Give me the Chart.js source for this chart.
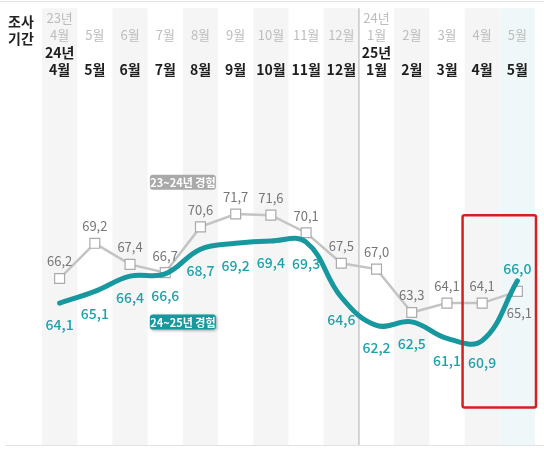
<!DOCTYPE html>
<html>
<head>
<meta charset="utf-8">
<script src="https://cdn.jsdelivr.net/npm/chart.js@4"></script>
<style>
  html, body { margin: 0; padding: 0; background: #fff; }
  #wrap { width: 544px; height: 455px; position: relative; }
</style>
</head>
<body>
<div id="wrap"><canvas id="chart"></canvas></div>
<script>
// 조사 기간 (전년도 / 올해)
const prevMonths = [["23년", "4월"], "5월", "6월", "7월", "8월", "9월", "10월", "11월", "12월", ["24년", "1월"], "2월", "3월", "4월", "5월"];
const currMonths = [["24년", "4월"], "5월", "6월", "7월", "8월", "9월", "10월", "11월", "12월", ["25년", "1월"], "2월", "3월", "4월", "5월"];

const prevName = "23~24년 경험";
const currName = "24~25년 경험";
const prevValues = [66.2, 69.2, 67.4, 66.7, 70.6, 71.7, 71.6, 70.1, 67.5, 67.0, 63.3, 64.1, 64.1, 65.1];
const currValues = [64.1, 65.1, 66.4, 66.6, 68.7, 69.2, 69.4, 69.3, 64.6, 62.2, 62.5, 61.1, 60.9, 66.0];

const FONT = '"Noto Sans CJK KR", "Noto Sans", sans-serif';
const TEAL = "#17989e";
const GRAY = "#c4c4c4";

function fmt(v) { return v.toFixed(1).replace(".", ","); }

const backdrop = {
  id: "backdrop",
  beforeDraw(chart) {
    const { ctx, chartArea: a, scales: { x } } = chart;
    const w = x.getPixelForValue(1) - x.getPixelForValue(0);
    ctx.save();
    currMonths.forEach((_, i) => {
      const cx = x.getPixelForValue(i);
      let fill = null;
      if (i === currMonths.length - 1) fill = "#eff7f8";
      else if (i % 2 === 0) fill = "#f5f5f6";
      if (fill) {
        ctx.fillStyle = fill;
        ctx.fillRect(cx - w / 2, a.top, w, a.bottom - a.top);
      }
    });
    // 연도 구분선
    const sep = (x.getPixelForValue(8) + x.getPixelForValue(9)) / 2;
    ctx.strokeStyle = "#c8c8c8";
    ctx.lineWidth = 1.5;
    ctx.beginPath();
    ctx.moveTo(sep, a.top);
    ctx.lineTo(sep, a.bottom);
    ctx.stroke();
    // 위/아래 테두리
    ctx.strokeStyle = "#e2e2e2";
    ctx.lineWidth = 1;
    ctx.beginPath();
    ctx.moveTo(0, 1.5); ctx.lineTo(chart.width, 1.5);
    ctx.moveTo(5, a.bottom + 0.5); ctx.lineTo(chart.width, a.bottom + 0.5);
    ctx.stroke();

    // 헤더
    ctx.textAlign = "center";
    ctx.textBaseline = "middle";
    ctx.fillStyle = "#222";
    ctx.font = "bold 14px " + FONT;
    ctx.fillText("조사", 21, 22);
    ctx.fillText("기간", 21, 39);
    const drawLabel = (lab, cx, y, color, font) => {
      const lines = Array.isArray(lab) ? lab : [lab];
      ctx.fillStyle = color;
      ctx.font = font;
      lines.forEach((t, k) => ctx.fillText(t, cx, y - (lines.length - 1 - k) * 17));
    };
    prevMonths.forEach((lab, i) => drawLabel(lab, x.getPixelForValue(i), 35, "#bdbdbd", "13px " + FONT));
    currMonths.forEach((lab, i) => drawLabel(lab, x.getPixelForValue(i), 70, "#1e1e1e", "bold 14px " + FONT));
    ctx.restore();
  }
};

const overlay = {
  id: "overlay",
  afterDatasetsDraw(chart) {
    const { ctx, scales: { x, y } } = chart;
    ctx.save();
    ctx.textAlign = "center";
    ctx.textBaseline = "middle";
    const last = currValues.length - 1;

    // 23~24 값
    chart.getDatasetMeta(1).data.forEach((p, i) => {
      ctx.fillStyle = "#777";
      ctx.font = "13px " + FONT;
      ctx.fillText(fmt(prevValues[i]), p.x + (i === last ? 2 : 0), p.y + (i === last ? 22 : -17));
    });
    // 24~25 값
    chart.getDatasetMeta(0).data.forEach((p, i) => {
      ctx.fillStyle = "#1fa2aa";
      ctx.font = "500 14px " + FONT;
      ctx.fillText(fmt(currValues[i]), p.x, p.y + (i === last ? -12 : 22));
    });

    // 시리즈 이름표
    const bx = (x.getPixelForValue(3) + x.getPixelForValue(4)) / 2;
    const tag = (text, cy, bg, shadow) => {
      ctx.font = "bold 11px " + FONT;
      const w = 66, h = 15;
      ctx.save();
      if (shadow) {
        ctx.shadowColor = "rgba(0,0,0,0.35)";
        ctx.shadowBlur = 3;
        ctx.shadowOffsetX = 1;
        ctx.shadowOffsetY = 1;
      }
      ctx.fillStyle = bg;
      ctx.beginPath();
      ctx.roundRect(bx - w / 2, cy - h / 2, w, h, 3);
      ctx.fill();
      ctx.restore();
      ctx.fillStyle = "#fff";
      ctx.fillText(text, bx, cy + 0.5);
    };
    tag(prevName, y.getPixelForValue(74.4), "#a9a9a9", false);
    tag(currName, y.getPixelForValue(62.5), TEAL, true);

    // 강조 박스 (최근 4월~5월)
    const w = x.getPixelForValue(1) - x.getPixelForValue(0);
    const l = x.getPixelForValue(12) - w / 2 - 2;
    const r = x.getPixelForValue(13) + w / 2 + 1;
    const t = y.getPixelForValue(71.6), b = y.getPixelForValue(55.2);
    ctx.strokeStyle = "#d71f1f";
    ctx.lineWidth = 2.5;
    ctx.beginPath();
    ctx.roundRect(l, t, r - l, b - t, 2);
    ctx.stroke();
    ctx.restore();
  }
};

new Chart(document.getElementById("chart"), {
  type: "line",
  data: {
    labels: currMonths.map(m => Array.isArray(m) ? m.join(" ") : m),
    datasets: [
      {
        label: currName,
        data: currValues,
        borderColor: TEAL,
        borderWidth: 5,
        borderCapStyle: "round",
        tension: 0.4,
        pointRadius: 0,
        fill: false,
      },
      {
        label: prevName,
        data: prevValues,
        borderColor: GRAY,
        borderWidth: 2.5,
        tension: 0,
        pointStyle: "rect",
        pointRadius: 7,
        pointBackgroundColor: "#fff",
        pointBorderColor: "#aaa",
        pointBorderWidth: 1.2,
        fill: false,
      }
    ]
  },
  options: {
    responsive: true,
    maintainAspectRatio: false,
    animation: false,
    layout: { padding: { left: 42, right: 9, top: 5, bottom: 10 } },
    scales: {
      x: { display: false, offset: true },
      y: { display: false, min: 52, max: 89.25 }
    },
    plugins: {
      legend: { display: false },
      tooltip: { enabled: false }
    }
  },
  plugins: [backdrop, overlay]
});
</script>
</body>
</html>
